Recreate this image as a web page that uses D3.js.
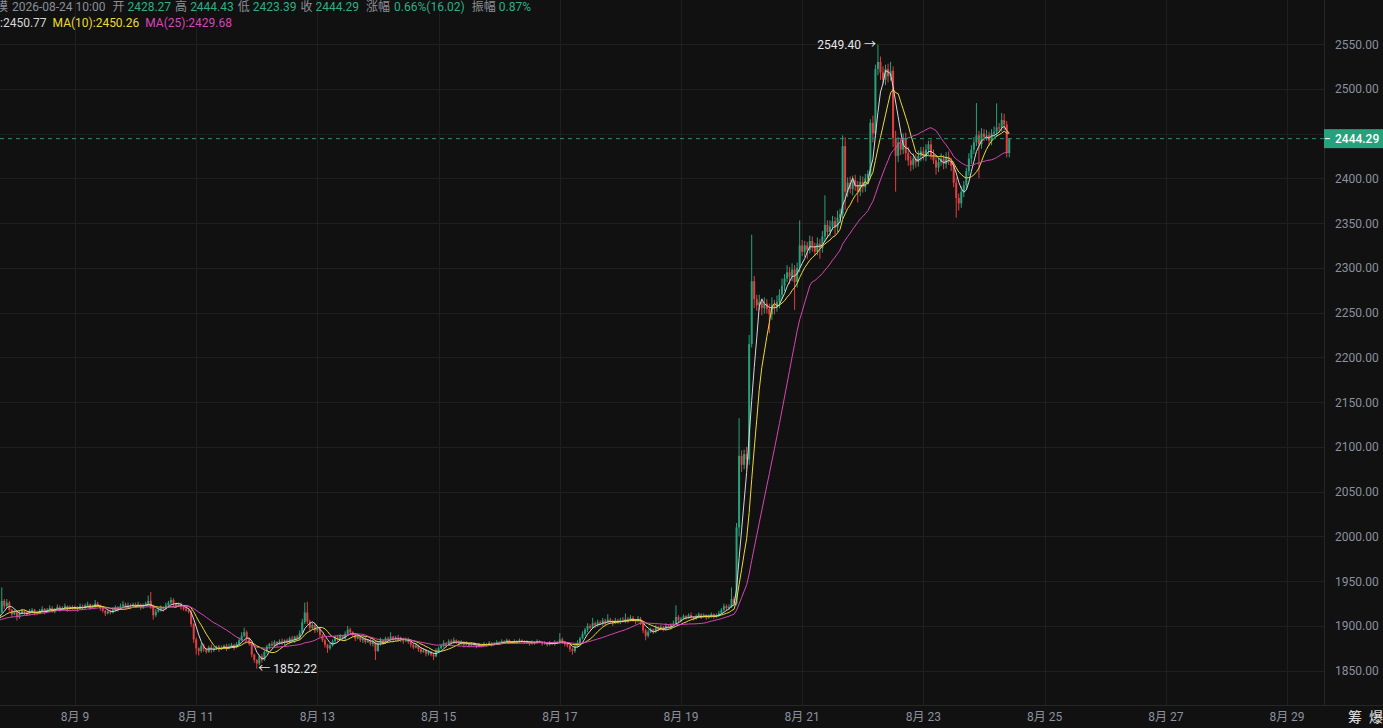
<!DOCTYPE html>
<html>
<head>
<meta charset="utf-8">
<script src="https://d3js.org/d3.v7.min.js"></script>
<style>
  html, body { margin: 0; padding: 0; background: #111111; overflow: hidden; }
  svg { display: block; font-family: Roboto, "Noto Sans CJK SC", sans-serif; }
</style>
</head>
<body>
<div id="chart"></div>
<script>
// hourly candles, first one at 2026-08-06 18:00 (the first day is off-screen, it only feeds the MAs)
const startTime = new Date(2026, 7, 6, 18);

const closes = [
  // 08-06 18:00 .. 08-07 17:00
  1906,1904,1907,1905,1903,1906,1908,1905,1902,1904,1907,1909,1906,1904,1905,1908,1910,1907,1905,1906,1909,1908,1906,1910,
  // 08-07 18:00 .. 23:00
  1915,1928,1922,1926,1918,1913,
  // 08-08
  1916,1910,1914,1917,1915,1913,1916,1918,1915,1914,1917,1919,1916,1918,1920,1917,1919,1921,1918,1920,1922,1919,1921,1920,
  // 08-09
  1921,1919,1922,1920,1923,1924,1921,1922,1925,1923,1920,1917,1914,1916,1915,1918,1921,1919,1922,1924,1921,1923,1922,1924,
  // 08-10
  1922,1924,1921,1923,1925,1928,1922,1912,1916,1918,1921,1919,1923,1926,1929,1925,1922,1924,1921,1919,1917,1916,1902,1885,
  // 08-11
  1875,1872,1878,1874,1871,1876,1873,1875,1877,1874,1876,1878,1875,1877,1879,1876,1880,1884,1889,1893,1886,1880,1868,1862,
  // 08-12
  1858,1866,1862,1871,1877,1880,1878,1882,1880,1883,1881,1884,1882,1886,1884,1888,1886,1892,1904,1915,1905,1898,1901,1895,
  // 08-13
  1897,1890,1884,1879,1875,1878,1883,1887,1885,1889,1886,1891,1896,1893,1890,1886,1888,1884,1886,1882,1884,1880,1883,1872,
  // 08-14
  1880,1884,1882,1886,1884,1888,1885,1887,1884,1886,1883,1885,1882,1879,1876,1878,1874,1871,1873,1869,1871,1868,1866,1872,
  // 08-15
  1875,1878,1881,1879,1883,1881,1884,1882,1880,1882,1879,1881,1878,1880,1879,1877,1879,1878,1880,1879,1881,1879,1880,1882,
  // 08-16
  1881,1883,1882,1884,1882,1881,1883,1882,1884,1883,1881,1882,1880,1882,1881,1883,1882,1880,1881,1879,1881,1880,1882,1881,
  // 08-17
  1885,1882,1880,1878,1874,1872,1877,1881,1886,1891,1896,1900,1898,1903,1901,1904,1902,1906,1904,1907,1905,1903,1906,1904,
  // 08-18
  1907,1905,1908,1906,1909,1907,1905,1908,1903,1895,1889,1893,1896,1894,1898,1896,1899,1897,1900,1898,1901,1903,1910,1906,
  // 08-19
  1908,1911,1909,1912,1910,1908,1911,1913,1910,1912,1909,1911,1913,1910,1912,1914,1918,1922,1920,1921,1930,1925,2010,2090,
  // 08-20
  2080,2092,2086,2215,2285,2265,2258,2262,2255,2260,2254,2248,2259,2256,2262,2270,2280,2288,2295,2290,2298,2284,2300,2325,
  // 08-21
  2318,2325,2320,2330,2324,2318,2327,2322,2335,2348,2340,2346,2352,2345,2356,2360,2436,2385,2395,2388,2398,2392,2385,2396,
  // 08-22
  2390,2400,2405,2462,2450,2522,2530,2518,2510,2522,2514,2520,2445,2425,2440,2432,2445,2428,2420,2415,2422,2418,2425,2430,
  // 08-23
  2424,2432,2438,2426,2420,2412,2418,2422,2416,2424,2419,2414,2395,2378,2372,2385,2392,2408,2422,2432,2440,2448,2438,2450,
  // 08-24 00:00 .. 10:00
  2446.4,2448,2442,2450,2452,2456.75,2456.29,2465,2460,2428.27,2444.29
];

// wick length above the body top
const upWick = [
  2,3,1,2,3,2,1,3,2,2,3,1,2,2,3,1,2,3,2,1,2,3,2,2,
  3,15,2,4,2,1,
  2,1,3,2,1,2,3,2,1,2,2,3,1,2,3,2,1,3,2,2,3,1,2,2,
  2,1,3,2,2,3,1,2,4,2,1,2,1,2,2,3,2,1,3,4,2,3,2,2,
  2,3,1,2,2,6,10,2,3,2,2,1,3,2,3,2,1,2,2,1,2,3,2,1,
  2,1,3,2,1,2,3,2,1,2,2,1,2,3,2,1,2,3,4,5,2,1,2,1,
  1,2,3,2,2,1,3,2,1,2,3,1,2,2,3,1,2,3,4,11,12,2,3,2,
  3,2,1,2,1,3,2,2,3,2,1,3,4,2,1,2,3,1,2,2,1,3,2,1,
  2,3,1,2,2,5,1,2,3,2,1,2,2,1,2,3,1,2,2,1,2,1,2,3,
  2,2,3,1,2,2,3,1,2,2,1,2,1,2,2,1,2,1,2,1,2,1,2,2,
  1,2,1,2,1,1,2,1,2,1,1,2,1,2,1,2,1,1,2,1,2,1,2,1,
  7,2,1,2,1,2,2,3,2,3,2,3,2,6,2,3,2,3,2,6,2,2,3,2,
  2,3,6,2,3,2,1,3,2,1,2,3,2,1,3,2,2,1,3,2,2,3,13,2,
  2,2,1,2,3,1,2,2,1,2,1,2,2,1,2,3,2,3,2,3,13,3,5,42,
  6,5,8,10,52,6,5,8,4,7,5,6,8,5,7,6,8,5,8,6,7,5,6,28,
  6,5,4,6,5,4,7,5,6,33,5,7,6,5,8,6,12,10,6,7,5,6,5,7,
  6,5,4,4,8,5,19.4,6,7,5,6,10,5,8,6,5,5,6,7,5,6,5,6,5,
  5,6,4,5,6,4,5,6,4,5,6,4,5,6,5,6,5,4,6,5,6,36,5,6,
  5,6,4,5,6,27,5,8,7,4,0.14
];

// wick length below the body bottom
const downWick = [
  2,1,2,3,1,2,2,1,3,2,1,2,2,3,1,2,1,2,2,3,1,2,1,2,
  2,1,3,2,2,3,
  1,4,2,1,3,2,1,2,3,2,1,2,3,1,2,2,3,1,2,1,2,3,1,2,
  2,3,1,2,1,2,3,1,2,2,3,2,3,1,2,1,2,3,1,2,2,1,3,2,
  2,1,3,2,1,2,3,5,2,1,2,3,1,2,2,3,2,1,3,2,1,2,3,4,
  7,5,2,3,2,1,3,2,2,3,1,2,3,1,2,3,1,2,1,2,3,2,3,3,
  5.78,2,3,1,2,3,1,2,3,1,2,3,1,2,2,3,1,2,1,2,3,4,2,3,
  2,3,2,3,5,2,1,2,3,1,2,2,1,3,2,3,1,2,3,2,1,2,3,10,
  1,2,3,2,1,2,3,2,1,2,3,1,2,3,2,1,3,2,1,3,2,2,4,1,
  2,1,2,3,1,2,1,2,2,1,3,1,2,1,2,2,1,2,1,2,1,2,1,1,
  1,1,2,1,2,1,1,2,1,2,1,1,2,1,2,1,1,2,1,2,1,1,2,1,
  1,2,3,2,3,4,2,1,2,1,2,3,2,1,3,2,1,2,3,1,2,3,1,2,
  2,1,2,3,1,2,3,1,2,3,5,2,1,3,2,2,1,3,2,1,2,1,2,3,
  2,1,2,1,2,2,1,2,2,1,2,1,2,2,1,2,1,2,3,2,1,3,2,10,
  8,5,10,6,4,10,6,5,8,6,5,21,6,8,5,7,5,6,4,8,5,31,6,5,
  5,6,10,4,6,5,4,12,5,6,7,5,4,8,5,6,5,20,6,5,7,6,12,5,
  6,5,4,6,10,6,7,8,5,6,7,5,10,40,7,6,5,8,6,7,5,6,5,6,
  4,5,6,5,4,8,5,4,6,5,4,6,5,22,8,5,6,4,5,6,5,4,38,5,
  5,4,6,5,4,6,5,4,6,5,4.88
];

const yTicks = [1850, 1900, 1950, 2000, 2050, 2100, 2150, 2200, 2250, 2300, 2350, 2400, 2450, 2500, 2550];
const xTickDays = [9, 11, 13, 15, 17, 19, 21, 23, 25, 27, 29];
const maPeriods = [5, 10, 25];
const maColors = ["#d6d6d6", "#ecd93a", "#d646b6"];
const symbolLabel = "模";

const W = 1383, H = 728;
const plotW = 1324, plotH = 705;
const upColor = "#26a17b", downColor = "#e0403f";
const gridColor = "#1f1f1f", axisText = "#8a909e";

const candles = closes.map((c, i) => {
  const o = i === 0 ? c : closes[i - 1];
  return {
    t: new Date(startTime.getTime() + i * 3600e3),
    o, c,
    h: Math.max(o, c) + upWick[i],
    l: Math.min(o, c) - downWick[i]
  };
});

const x = d3.scaleTime()
  .domain([new Date(2026, 7, 9), new Date(2026, 7, 29)])
  .range([75, 1287]);
const y = d3.scaleLinear()
  .domain([1850, 2550])
  .range([670.7, 44]);

const svg = d3.select("#chart").append("svg")
  .attr("width", W)
  .attr("height", H);

svg.append("rect").attr("width", W).attr("height", H).attr("fill", "#111111");

svg.append("defs").append("clipPath").attr("id", "plot-clip")
  .append("rect").attr("width", plotW).attr("height", plotH);

// grid
const grid = svg.append("g");
grid.selectAll("line.h")
  .data(yTicks)
  .join("line")
  .attr("class", "h")
  .attr("x1", 0).attr("x2", plotW)
  .attr("y1", d => Math.round(y(d)) + 0.5).attr("y2", d => Math.round(y(d)) + 0.5)
  .attr("stroke", gridColor);

const xTicks = xTickDays.map(d => new Date(2026, 7, d));
grid.selectAll("line.v")
  .data(xTicks)
  .join("line")
  .attr("class", "v")
  .attr("x1", d => Math.round(x(d)) + 0.5).attr("x2", d => Math.round(x(d)) + 0.5)
  .attr("y1", 0).attr("y2", plotH)
  .attr("stroke", gridColor);

// borders of the plot
svg.append("line")
  .attr("x1", plotW + 0.5).attr("x2", plotW + 0.5).attr("y1", 0).attr("y2", plotH)
  .attr("stroke", "#262626");
svg.append("line")
  .attr("x1", 0).attr("x2", W).attr("y1", plotH + 0.5).attr("y2", plotH + 0.5)
  .attr("stroke", "#262626");

const plot = svg.append("g").attr("clip-path", "url(#plot-clip)");

// candles
const bodyW = 2;
const cg = plot.append("g");
cg.selectAll("line.wick")
  .data(candles)
  .join("line")
  .attr("class", "wick")
  .attr("x1", d => x(d.t)).attr("x2", d => x(d.t))
  .attr("y1", d => y(d.h)).attr("y2", d => y(d.l))
  .attr("stroke", d => d.c >= d.o ? upColor : downColor)
  .attr("stroke-width", 1);
cg.selectAll("rect.body")
  .data(candles)
  .join("rect")
  .attr("class", "body")
  .attr("x", d => x(d.t) - bodyW / 2)
  .attr("width", bodyW)
  .attr("y", d => y(Math.max(d.o, d.c)))
  .attr("height", d => Math.max(1, Math.abs(y(d.o) - y(d.c))))
  .attr("fill", d => d.c >= d.o ? upColor : downColor);

// moving averages
const maValue = (n, i) => i < n - 1 ? null : d3.mean(closes.slice(i - n + 1, i + 1));
const maLine = d3.line()
  .defined(d => d[1] !== null)
  .x(d => x(d[0]))
  .y(d => y(d[1]));

maPeriods.forEach((n, k) => {
  const pts = candles.map((d, i) => [d.t, maValue(n, i)]);
  plot.append("path")
    .datum(pts)
    .attr("d", maLine)
    .attr("fill", "none")
    .attr("stroke", maColors[k])
    .attr("stroke-width", 1);
});

const last = candles[candles.length - 1];
const py = y(last.c);

// y axis labels (the one under the last-price tag is hidden)
svg.append("g").selectAll("text")
  .data(yTicks.filter(d => Math.abs(y(d) - py) > 12))
  .join("text")
  .attr("x", 1335)
  .attr("y", d => y(d) + 4.5)
  .attr("fill", axisText)
  .attr("font-size", 12)
  .text(d => d.toFixed(2));

// last price line
svg.append("line")
  .attr("x1", 0).attr("x2", plotW)
  .attr("y1", py).attr("y2", py)
  .attr("stroke", "#2f8f70")
  .attr("stroke-dasharray", "4,4");
svg.append("rect")
  .attr("x", plotW).attr("y", py - 9.5)
  .attr("width", W - plotW).attr("height", 19)
  .attr("fill", upColor);
svg.append("line")
  .attr("x1", plotW + 1).attr("x2", plotW + 6)
  .attr("y1", py).attr("y2", py)
  .attr("stroke", "#ffffff");
svg.append("text")
  .attr("x", 1335).attr("y", py + 4.5)
  .attr("fill", "#ffffff")
  .attr("font-size", 12)
  .attr("font-weight", 500)
  .text(last.c.toFixed(2));

// x axis labels
svg.append("g").selectAll("text")
  .data(xTicks)
  .join("text")
  .attr("x", d => x(d))
  .attr("y", 721)
  .attr("text-anchor", "middle")
  .attr("fill", axisText)
  .attr("font-size", 12)
  .text(d => `${d.getMonth() + 1}月 ${d.getDate()}`);

// highest / lowest markers
const hiC = candles.reduce((a, b) => b.h > a.h ? b : a);
const loC = candles.reduce((a, b) => b.l < a.l ? b : a);
svg.append("text")
  .attr("x", x(hiC.t) - 2).attr("y", y(hiC.h) + 4)
  .attr("text-anchor", "end")
  .attr("fill", "#e6e6e6")
  .attr("font-size", 12)
  .text(`${hiC.h.toFixed(2)} →`);
svg.append("text")
  .attr("x", x(loC.t) + 1.5).attr("y", y(loC.l) + 4)
  .attr("fill", "#e6e6e6")
  .attr("font-size", 12)
  .text(`← ${loC.l.toFixed(2)}`);

// header: last candle info
const pad = n => String(n).padStart(2, "0");
const t = last.t;
const dateStr = `${t.getFullYear()}-${pad(t.getMonth() + 1)}-${pad(t.getDate())} ${pad(t.getHours())}:${pad(t.getMinutes())}`;
const chg = last.c - last.o;
const green = "#2fae86", grey = "#8a8f99";

svg.append("text")
  .attr("x", 8).attr("y", 11)
  .attr("text-anchor", "end")
  .attr("fill", grey).attr("font-size", 12)
  .text(symbolLabel);

const info = [
  [dateStr, grey, 0],
  ["开", grey, 7], [last.o.toFixed(2), green, 3],
  ["高", grey, 4], [last.h.toFixed(2), green, 3],
  ["低", grey, 4], [last.l.toFixed(2), green, 3],
  ["收", grey, 4], [last.c.toFixed(2), green, 3],
  ["涨幅", grey, 7], [`${(chg / last.o * 100).toFixed(2)}%(${chg.toFixed(2)})`, green, 4],
  ["振幅", grey, 7], [`${((last.h - last.l) / last.o * 100).toFixed(2)}%`, green, 3]
];
svg.append("text")
  .attr("x", 12).attr("y", 11)
  .attr("font-size", 12)
  .selectAll("tspan")
  .data(info)
  .join("tspan")
  .attr("dx", d => d[2])
  .attr("fill", d => d[1])
  .text(d => d[0]);

// header: moving average values
const n = closes.length - 1;
svg.append("text")
  .attr("x", 0).attr("y", 27)
  .attr("text-anchor", "end")
  .attr("fill", maColors[0]).attr("font-size", 12)
  .text(`MA(${maPeriods[0]})`);
svg.append("text")
  .attr("x", 0).attr("y", 27)
  .attr("font-size", 12)
  .selectAll("tspan")
  .data(maPeriods)
  .join("tspan")
  .attr("dx", (d, i) => i === 0 ? 0 : 6)
  .attr("fill", (d, i) => maColors[i])
  .text((d, i) => (i === 0 ? "" : `MA(${d})`) + ":" + maValue(d, n).toFixed(2));

// bottom-right buttons
svg.append("text")
  .attr("x", 1348).attr("y", 722)
  .attr("fill", "#d4d4d4").attr("font-size", 14).attr("font-weight", 500)
  .text("筹");
svg.append("text")
  .attr("x", 1369).attr("y", 722)
  .attr("fill", "#d4d4d4").attr("font-size", 14).attr("font-weight", 500)
  .text("爆");
</script>
</body>
</html>
